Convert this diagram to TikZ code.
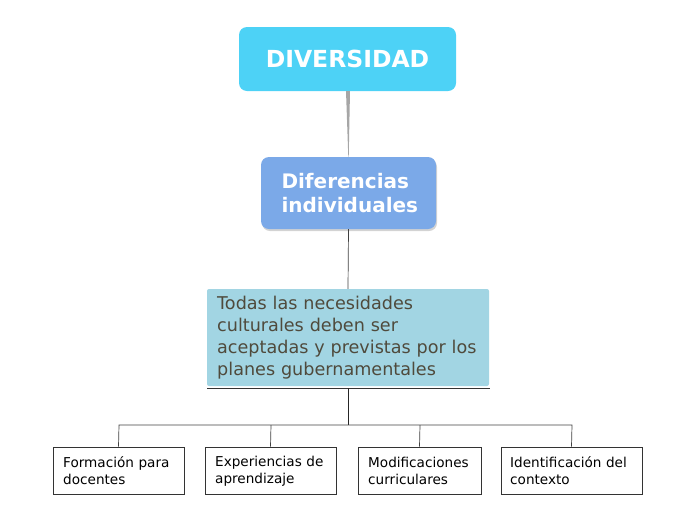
\documentclass[tikz,border=0pt]{standalone}
\usepackage{fontspec}
\setmainfont{DejaVu Sans}
\usetikzlibrary{shadows}
\definecolor{cyanb}{HTML}{4DD2F6}
\definecolor{blueb}{HTML}{7BA9E8}
\definecolor{lightb}{HTML}{A2D5E3}
\definecolor{txt}{HTML}{4F4A3C}
\tikzset{leaf/.style={draw=black!80,line width=0.6pt,minimum height=47pt,inner sep=0pt},
lt/.style={font=\fontsize{13.6}{17}\selectfont,align=left,text width=#1,anchor=west},
conn/.style={draw=black!75,line width=0.7pt}}
\begin{document}
\begin{tikzpicture}[x=1pt,y=-1pt]
\useasboundingbox (0,0) rectangle (696,520);
\node[fill=cyanb,rounded corners=8pt,minimum width=217pt,minimum height=64pt,text=white,font=\bfseries\fontsize{23.5}{26}\selectfont] (d) at (347.5,59) {DIVERSIDAD};
\node[fill=blueb,rounded corners=8pt,minimum width=175pt,minimum height=72pt,drop shadow={opacity=0.35,shadow xshift=1pt,shadow yshift=-2pt}] (f) at (348.5,193) {};
\node[text=white,font=\bfseries\fontsize{20}{24}\selectfont,align=left,anchor=west] at (278,193) {Diferencias\\individuales};
\fill[black!35] (346,91) -- (350,91) -- (348.7,157) -- (348.3,157) -- cycle;
\node[fill=lightb,rounded corners=2pt,minimum width=282pt,minimum height=97pt] (t) at (348,337.5) {};
\node[lt=275pt,font=\fontsize{17.6}{22}\selectfont,text=txt,inner sep=0pt] at (217,338) {Todas las necesidades\\culturales deben ser\\aceptadas y previstas por los\\planes gubernamentales};
\draw[conn] (f.south) -- (t.north);
\draw[black!80,line width=0.8pt] (207,388) -- (490,388);
\coordinate (u) at (348.5,388);
\coordinate (h) at (348.5,425);
\draw[black!85,line width=1.2pt] (u) -- (h);
\node[leaf,minimum width=131pt] (a) at (118.5,470.5) {};
\node[leaf,minimum width=131pt] (b) at (270.5,470.5) {};
\node[leaf,minimum width=123pt] (c) at (419.5,470.5) {};
\node[leaf,minimum width=141pt] (e) at (571.5,470.5) {};
\draw[conn] (a.north) -- (119,425) -- (572,425) -- (e.north);
\draw[conn] (b.north) -- (271,425);
\draw[conn] (c.north) -- (420,425);
\node[lt=125pt,inner sep=0pt] at (63,471) {Formación para\\docentes};
\node[lt=130pt,inner sep=0pt] at (215,471) {Experiencias de\\aprendizaje};
\node[lt=120pt,inner sep=0pt] at (368,471) {Modificaciones\\curriculares};
\node[lt=140pt,inner sep=0pt] at (510,471) {Identificación del\\contexto};
\end{tikzpicture}
\end{document}
